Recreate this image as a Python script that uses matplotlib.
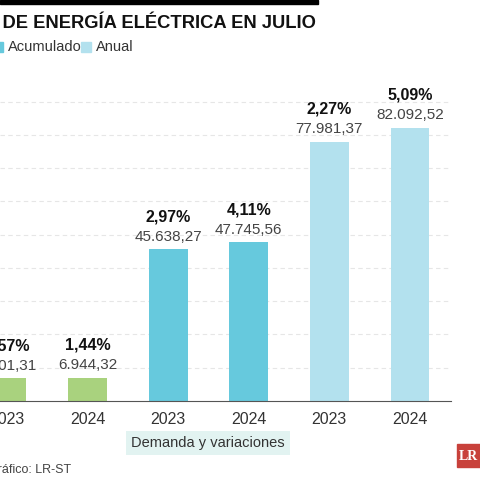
import matplotlib
matplotlib.use("Agg")
import matplotlib.pyplot as plt
from matplotlib.patches import Rectangle

plt.rcParams['font.family'] = ['Liberation Sans', 'DejaVu Sans']

years = ["2023", "2024", "2023", "2024", "2023", "2024"]
values = [6801.31, 6944.32, 45638.27, 47745.56, 77981.37, 82092.52]
value_labels = ["6.801,31", "6.944,32", "45.638,27", "47.745,56", "77.981,37", "82.092,52"]
pct_labels = ["1,57%", "1,44%", "2,97%", "4,11%", "2,27%", "5,09%"]
colors = ["#a9d27e", "#a9d27e", "#66c9dd", "#66c9dd", "#b3e1ee", "#b3e1ee"]
legend_labels = ["Mensual", "Acumulado", "Anual"]

fig = plt.figure(figsize=(4.8, 4.8), dpi=100)
ax = fig.add_axes([0, 1 - 401/480, 451/480, 306/480])
x = list(range(len(values)))
ax.bar(x, values, width=0.48, color=colors, zorder=2)
ax.set_xlim(-0.087, 5.51)
ax.set_ylim(0, 92000)
ax.set_yticks(range(10000, 90001, 10000))
ax.yaxis.grid(True, color="#e6e6e6", linestyle=(0, (4, 3)), linewidth=0.8, zorder=0)
ax.tick_params(axis='y', length=0, labelleft=False)
ax.tick_params(axis='x', length=0, pad=8)
ax.set_xticks(x)
ax.set_xticklabels(years, fontsize=11.5, color="#333333")
for s in ["top", "right", "left"]:
    ax.spines[s].set_visible(False)
ax.spines["bottom"].set_color("#555555")
ax.spines["bottom"].set_linewidth(0.8)
for xi, v, vl, pl in zip(x, values, value_labels, pct_labels):
    ax.annotate(vl, (xi, v), xytext=(0, 4), textcoords="offset points",
                ha="center", va="bottom", fontsize=11, color="#444444")
    ax.annotate(pl, (xi, v), xytext=(0, 18), textcoords="offset points",
                ha="center", va="bottom", fontsize=11.5, fontweight="bold", color="#111111")

# title
fig.add_artist(Rectangle((0, 1 - 4/480), 318/480, 4/480, transform=fig.transFigure, color="black"))
fig.text(316/480, 1 - 24/480, "DEMANDA DE ENERGÍA ELÉCTRICA EN JULIO", ha="right", va="center",
         fontsize=13.2, fontweight="bold", color="#111111")
# legend
leg_x = [-62, 8, 96]
for lx, lab, c in zip(leg_x, legend_labels, ["#a9d27e", "#66c9dd", "#b3e1ee"]):
    fig.add_artist(Rectangle(((lx - 15)/480, 1 - 52/480), 10/480, 10/480,
                             transform=fig.transFigure, color=c))
    fig.text(lx/480, 1 - 47/480, lab, ha="left", va="center", fontsize=10.5, color="#333333")

fig.text(208/480, 1 - 443/480, "Demanda y variaciones", ha="center", va="center", fontsize=10.5,
         color="#333333", bbox=dict(boxstyle="square,pad=0.35", fc="#e2f3f1", ec="none"))
fig.text(-12/480, 1 - 470/480, "Gráfico: LR-ST", ha="left", va="center", fontsize=9, color="#444444")
# logo
fig.add_artist(Rectangle((457/480, 1 - 467/480), 23/480, 23/480, transform=fig.transFigure, color="#c8413b"))
fig.text(468/480, 1 - 456/480, "LR", ha="center", va="center", fontsize=10, fontweight="bold",
         color="white", family=["Liberation Serif"])

fig.savefig("out.png", dpi=100)
